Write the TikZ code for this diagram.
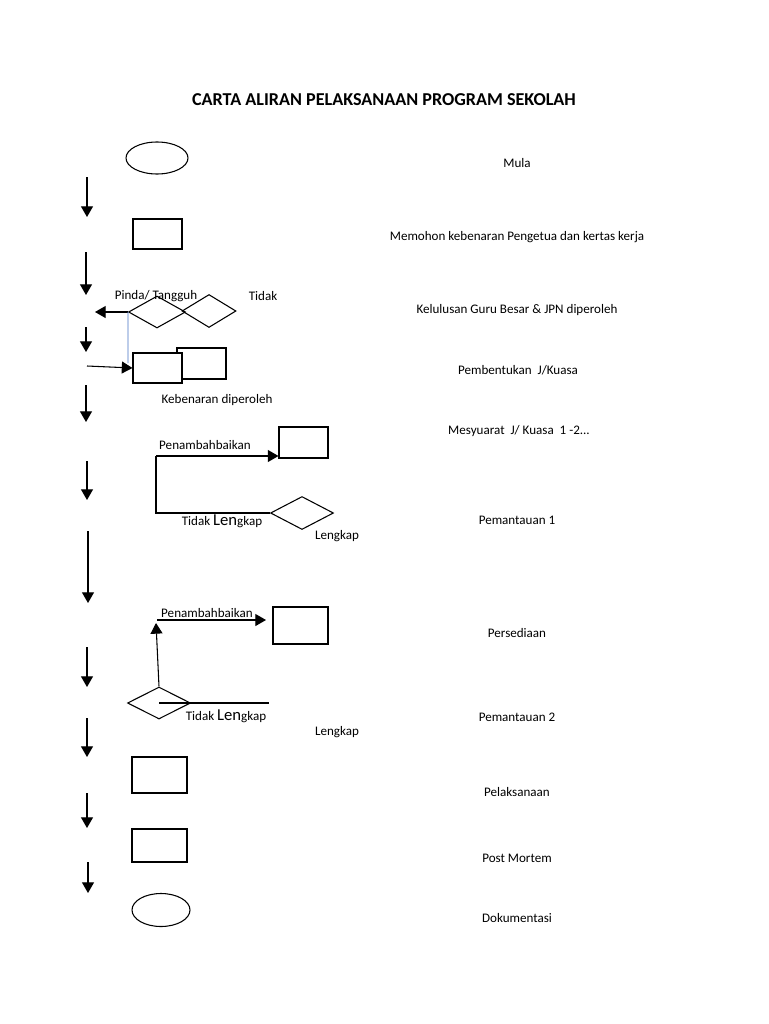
\documentclass[tikz,border=0pt]{standalone}
\usepackage{fontspec}
\setmainfont{Carlito}
\usetikzlibrary{shapes.geometric,arrows.meta}
\definecolor{wordblue}{RGB}{68,114,196}
\tikzset{
  box/.style={draw,fill=white,rectangle,inner sep=0pt},
  oval/.style={draw,fill=white,ellipse,inner sep=0pt},
  cond/.style={draw,diamond,inner sep=0pt},
  lbl/.style={inner sep=0pt,font=\fontsize{9.8}{11}\selectfont},
  arr/.style={-{Triangle[width=9pt,length=8pt]}},
}
\newcommand{\Len}{{\fontsize{12.5}{13}\selectfont Len}}

\begin{document}
\begin{tikzpicture}[x=0.75pt,y=-0.75pt,line width=0.8pt]
\useasboundingbox[fill=white] (0,0) rectangle (768,1024);
\node[inner sep=0pt,font=\bfseries\fontsize{13.6}{15}\selectfont] (title) at (384,100) {CARTA ALIRAN PELAKSANAAN PROGRAM SEKOLAH};

% arrows down the left side
\foreach \t/\b/\x [count=\i] in {177/217/87,252/295/86,327/352/86,385/422/86,461/500/87,
    531/603/88,647/687/87,718/757/87,793/828/87,862/893/88}{
  \coordinate (t\i) at (\x,\t);
  \coordinate (b\i) at (\x,\b);
  \draw[arr] (t\i) -- (b\i);
}

% labels on the right
\begin{scope}[every node/.style={lbl}]
  \node (r0) at (517,163) {Mula};
  \node (r1) at (517,237) {Memohon kebenaran Pengetua dan kertas kerja};
  \node (r2) at (517,310) {Kelulusan Guru Besar \& JPN diperoleh};
  \node (r3) at (518,370) {Pembentukan\ \ J/Kuasa};
  \node (r4) at (519,431) {Mesyuarat\ \ J/ Kuasa\ \ 1 -2...};
  \node (r5) at (517,520) {Pemantauan 1};
  \node (r6) at (517,633) {Persediaan};
  \node (r7) at (517,717) {Pemantauan 2};
  \node (r8) at (517,792) {Pelaksanaan};
  \node (r9) at (517,858) {Post Mortem};
  \node (r10) at (517,918) {Dokumentasi};
\end{scope}

% shapes
\draw
  (157,158) node[oval,minimum width=46.5pt,minimum height=24pt] (0){}
  (157.5,234) node[box,minimum width=36.75pt,minimum height=22.5pt] (1){}
  (157,312) node[cond,minimum width=42.75pt,minimum height=24pt] (2){}
  (209,311) node[cond,minimum width=40.5pt,minimum height=24.75pt] (3){}
  (201.5,363.5) node[box,minimum width=36.75pt,minimum height=23.25pt] (5){}
  (157.5,368) node[box,minimum width=36.75pt,minimum height=22.5pt] (4){}
  (303.5,442.5) node[box,minimum width=36.75pt,minimum height=23.25pt] (6){}
  (302,513) node[cond,minimum width=47.25pt,minimum height=24.75pt] (7){}
  (300.5,625.5) node[box,minimum width=41.25pt,minimum height=27.75pt] (8){}
  (159,703) node[cond,minimum width=47.25pt,minimum height=24pt] (9){}
  (159.5,775) node[box,minimum width=41.25pt,minimum height=27pt] (10){}
  (159.5,845.5) node[box,minimum width=41.25pt,minimum height=24.75pt] (11){}
  (161,910) node[oval,minimum width=43.5pt,minimum height=24.75pt] (12){};

% texts beside the shapes
\begin{scope}[every node/.style={lbl}]
  \node (l1) at (156,296) {Pinda/ Tangguh};
  \node (l2) at (263,296) {Tidak};
  \node (l3) at (217,400) {Kebenaran diperoleh};
  \node (l4) at (205,445) {Penambahbaikan};
  \node (l5) at (222,521) {Tidak\ \Len gkap};
  \node (l6) at (337,536) {Lengkap};
  \node (l7) at (207,613) {Penambahbaikan};
  \node (l8) at (226,716) {Tidak\ \Len gkap};
  \node (l9) at (337,732) {Lengkap};
\end{scope}

% connectors
\coordinate (p1) at (95,312);
\coordinate (p2) at (128,363);
\coordinate (q1) at (87,366);
\draw[arr] (2.west) -- (p1);
\draw[wordblue,line width=0.6pt] (2.west) -- (p2);
\draw[arr] (q1) -- (4.west);

\coordinate (c1) at (156,456);
\draw[arr] (c1) -- (c1 -| 6.west);
\draw (c1) |- (7.west);

\coordinate (d1) at (156,623);
\coordinate (d2) at (157,620);
\coordinate (d3) at (266,620);
\coordinate (d4) at (269,703);
\draw[arr] (9.north) -- (d1);
\draw[arr] (d2) -- (d3);
\draw (9.center) -- (d4);
\end{tikzpicture}
\end{document}
